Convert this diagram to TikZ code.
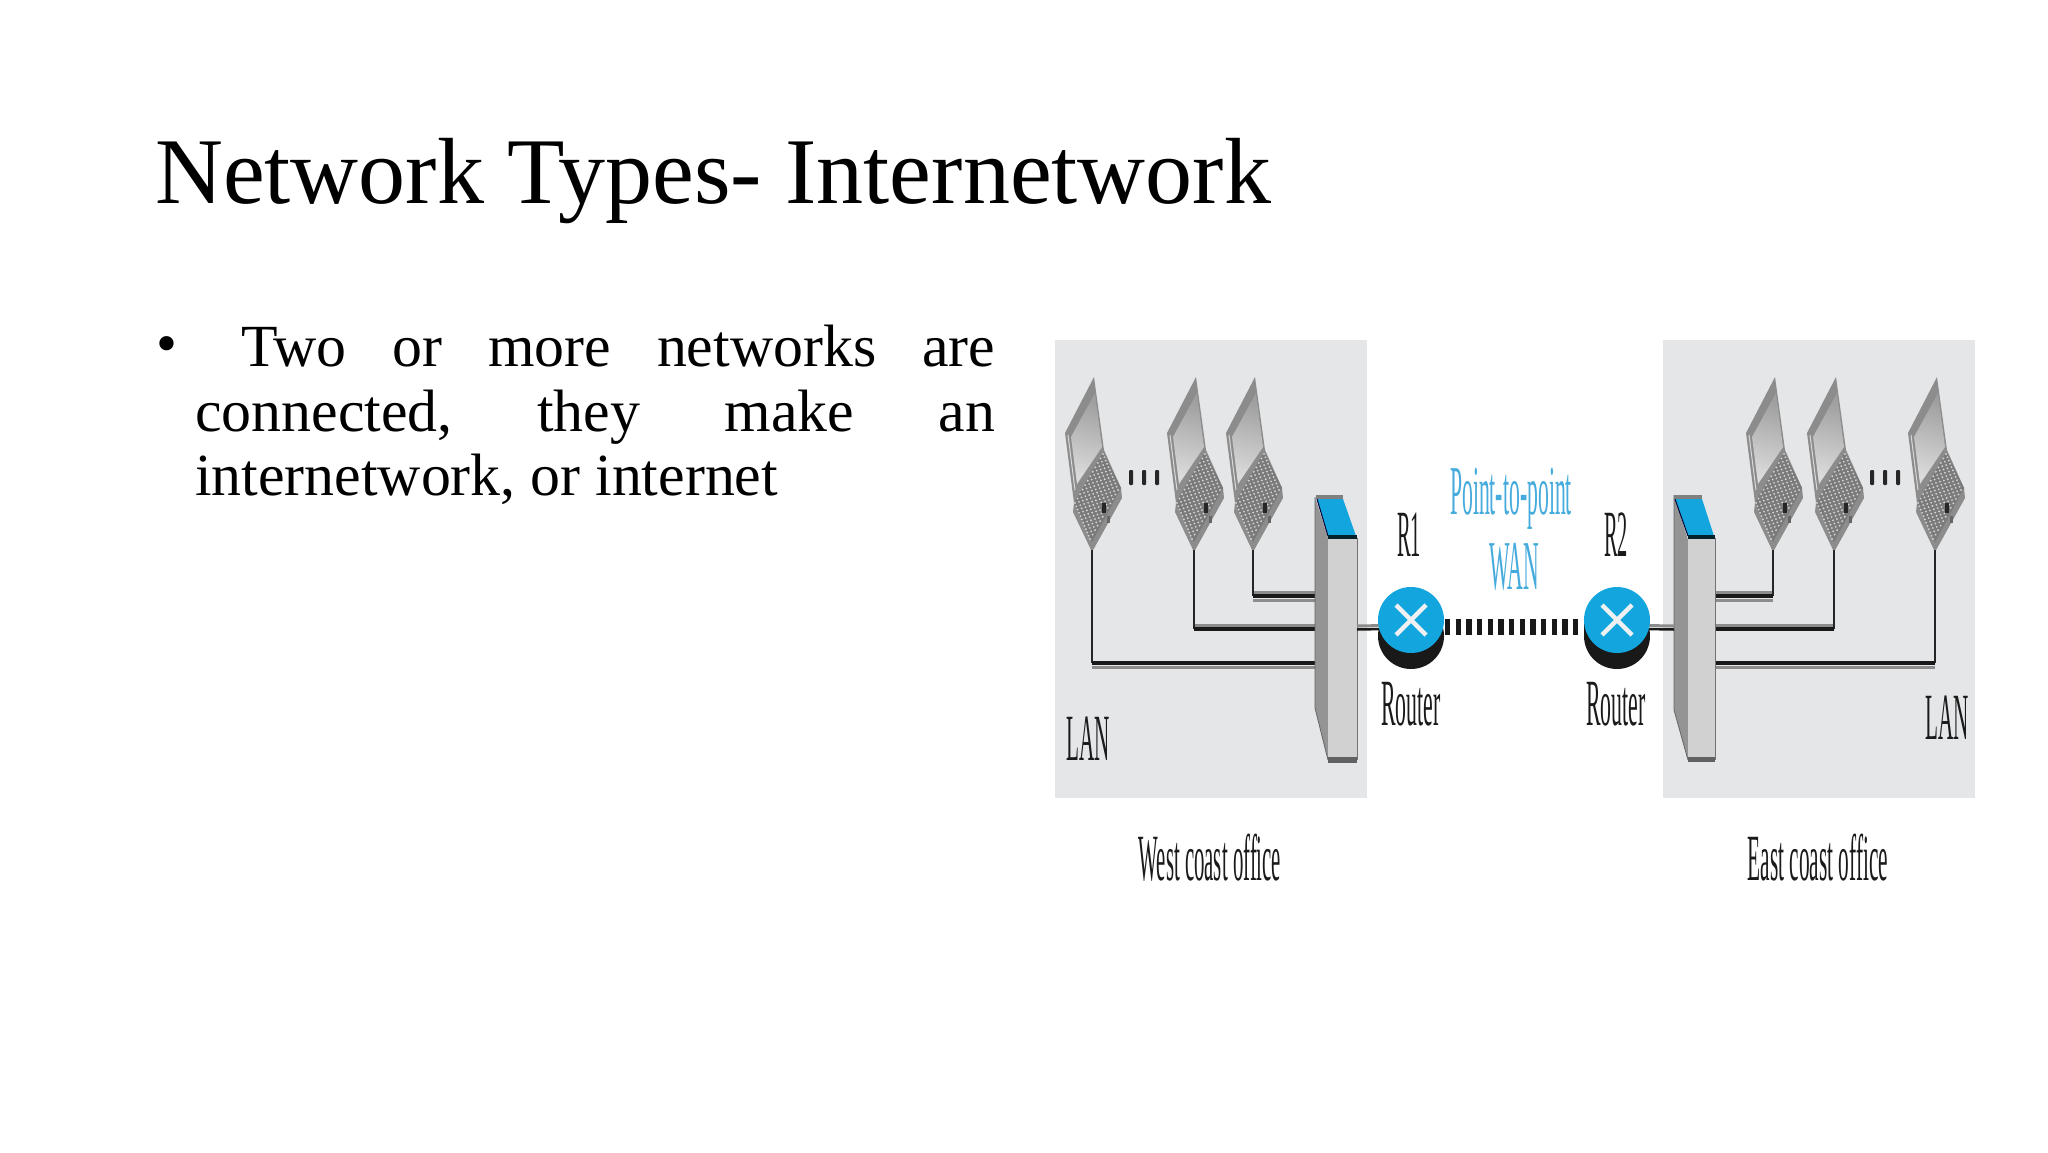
\documentclass[tikz,border=0pt]{standalone}
\usepackage{fontspec}
\usepackage{graphicx}
\setmainfont{Liberation Serif}
\definecolor{panelc}{HTML}{E4E6E8}
\definecolor{bluec}{HTML}{12A5DE}
\definecolor{wanc}{HTML}{45ABDC}
\definecolor{inkc}{HTML}{1A1A1A}
\newcommand{\cond}[2]{\scalebox{#1}[1]{#2}}
\tikzset{
  panel/.style={fill=panelc,draw=none},
  titletext/.style={anchor=base west,inner sep=0pt,font=\fontsize{94}{100}\selectfont,text=black},
  bodytext/.style={anchor=base west,inner sep=0pt,font=\fontsize{59.8}{64}\selectfont\frenchspacing,text=black},
  dlabel/.style={anchor=base,inner sep=0pt,font=\fontsize{66}{70}\selectfont,text=inkc},
  wlabel/.style={anchor=base,inner sep=0pt,font=\fontsize{70}{74}\selectfont,text=wanc},
  lanv/.style={draw=black!85,line width=1.5pt},
  lanh/.style={draw=black!90,line width=3.5pt},
  lans/.style={draw=black!45,line width=3pt},
  wan/.style={draw=black!90,line width=16pt,dash pattern=on 5.33pt off 5.34pt,dash phase=8.67pt},
  routernode/.style={circle,fill=bluec,minimum size=66pt,inner sep=0pt},
  xarm/.style={draw=panelc!60!white,line width=4.5pt},
  dotted3/.style={fill=black!85,rounded corners=1pt},
  lappic/.pic={
    \fill[black!45] (2,-173)--(-27,-117)--(-18,-47)--(-19,-38)--(0,2)--(30,-52)--(29,-62)--(12,-100)--cycle;
    \draw[black!15,line width=1pt] (-24,-115)--(-17,-60);
    \shade[top color=black!38,bottom color=black!14,shading angle=-15] (3,-157)--(-21,-113)--(-15,-66)--(10,-103)--cycle;
    \fill[black!52] (-18,-47)--(11,-98)--(29,-62)--(0,-8)--cycle;
    \foreach \i in {0,...,11}{\foreach \j in {0,...,11}{
      \fill[black!18] ({-17+28*\i/11+15*\j/11},{-47-49*\i/11+36*\j/11}) circle (1.05);
    }}
    \fill[black!85] (10,-47) rectangle (14,-37);
    \fill[black!60] (15,-34) rectangle (18,-27);
  }
}
\begin{document}
\begin{tikzpicture}[x=1pt,y=-1pt]
\useasboundingbox (0,0) rectangle (2048,1152);
\fill[white] (0,0) rectangle (2048,1152);
% slide text
\node[titletext] (title) at (155,203) {Network Types- Internetwork};
\node[bodytext] (bullet) at (156,363) {•};
\node[bodytext] (l1) at (241,366) {\makebox[754pt][s]{Two or more networks are}};
\node[bodytext] (l2) at (195,431) {\makebox[800pt][s]{connected, they make an}};
\node[bodytext] (l3) at (195,495) {internetwork, or internet};
% panels
\fill[panel] (1055,340) rectangle (1367,798);
\fill[panel] (1663,340) rectangle (1975,798);
% named points
\coordinate (w1) at (1092,550);
\coordinate (w2) at (1194,550);
\coordinate (w3) at (1253,550);
\coordinate (e1) at (1773,550);
\coordinate (e2) at (1834,550);
\coordinate (e3) at (1935,550);
\coordinate (hw1) at (1316,596);
\coordinate (hw2) at (1316,629);
\coordinate (hw3) at (1316,663);
\coordinate (he1) at (1715,596);
\coordinate (he2) at (1715,629);
\coordinate (he3) at (1715,663);
% laptops
\foreach \p in {w1,w2,w3,e1,e2,e3}{\pic at (\p) {lappic};}
% ellipsis
\foreach \x in {1131,1144,1157,1872,1885,1898}{\fill[dotted3] (\x-2,470) rectangle (\x+2,485);}
% LAN lines
\foreach \a/\b/\s in {w3/hw1/-1,w2/hw2/1,w1/hw3/-1,e1/he1/1,e2/he2/1,e3/he3/-1}{
  \draw[lans] ([yshift=\s*4pt]\a |- \b) -- ([yshift=\s*4pt]\b);
}
\draw[lans] ([yshift=4pt]w3 |- hw1) -- ([yshift=4pt]hw1);
\draw[lans] ([yshift=-4pt]e1 |- he1) -- ([yshift=-4pt]he1);
\foreach \a/\b in {w3/hw1,w2/hw2,w1/hw3,e1/he1,e2/he2,e3/he3}{
  \draw[lanv] (\a) -- (\a |- \b);
  \draw[lanh] (\a |- \b) -- (\b);
}
% hubs
\fill[black!42] (1315,497)--(1328,538)--(1328,760)--(1315,708)--cycle;
\draw[black!60,line width=.8pt] (1315,497)--(1315,708)--(1328,760);
\fill[black!18] (1328,538) rectangle (1357,760);
\draw[black!55,line width=1pt] (1357,538)--(1357,760);
\fill[black!62] (1328,757) rectangle (1357,763);
\fill[black!50] (1316,495) rectangle (1343,499);
\fill[bluec] (1317,499)--(1343,499)--(1356,536)--(1328,536)--cycle;
\draw[black!80!blue,line width=1pt] (1317,499)--(1328,536);
\fill[black!80!bluec] (1328,535) rectangle (1357,539);
\fill[black!42] (1674,495)--(1688,540)--(1688,760)--(1674,710)--cycle;
\draw[black!60,line width=.8pt] (1674,495)--(1674,710)--(1688,760);
\fill[black!18] (1688,538) rectangle (1715,760);
\draw[black!55,line width=1pt] (1715,538)--(1715,760);
\fill[black!62] (1688,757) rectangle (1715,762);
\fill[black!50] (1674,495) rectangle (1702,499);
\fill[bluec] (1675,499)--(1702,499)--(1714,536)--(1688,536)--cycle;
\draw[black!80!blue,line width=1pt] (1675,499)--(1688,536);
\fill[black!80!bluec] (1688,535) rectangle (1715,539);
% routers
\coordinate (wl) at (1411,627);
\coordinate (wr) at (1617,627);
\coordinate (hr1) at (1357,628);
\coordinate (hr2) at (1674,628);
\draw[lans] ([yshift=2pt]hr1) -- ([yshift=2pt]wl);
\draw[draw=black!90,line width=2.5pt] ([yshift=-1.5pt]hr1) -- ([yshift=-1.5pt]wl);
\draw[lans] ([yshift=2pt]hr2) -- ([yshift=2pt]wr);
\draw[draw=black!90,line width=2.5pt] ([yshift=-1.5pt]hr2) -- ([yshift=-1.5pt]wr);
\draw[wan] (wl) -- (wr);
\fill[black!90] (1411,636) circle (33);
\fill[black!90] (1617,636) circle (33);
\node[routernode] (r1) at (1411,620) {};
\node[routernode] (r2) at (1617,620) {};
\foreach \c in {r1,r2}{
  \draw[xarm] ([shift={(-15pt,-15pt)}]\c.center) -- ([shift={(15pt,15pt)}]\c.center);
  \draw[xarm] ([shift={(-15pt,15pt)}]\c.center) -- ([shift={(15pt,-15pt)}]\c.center);
}
% labels
\node[dlabel] (t1) at (1409,556) {\cond{.31}{R1}};
\node[dlabel] (t2) at (1616,556) {\cond{.31}{R2}};
\node[dlabel] (t3) at (1411,725) {\cond{.33}{Router}};
\node[dlabel] (t4) at (1616,725) {\cond{.33}{Router}};
\node[wlabel] (t5) at (1511,514) {\cond{.31}{Point-to-point}};
\node[wlabel] (t6) at (1514,589) {\cond{.31}{WAN}};
\node[dlabel] (t7) at (1088,760) {\cond{.32}{LAN}};
\node[dlabel] (t8) at (1947,739) {\cond{.32}{LAN}};
\node[dlabel] (t9) at (1210,880) {\cond{.315}{West coast office}};
\node[dlabel] (t10) at (1818,880) {\cond{.323}{East coast office}};
\end{tikzpicture}
\end{document}
